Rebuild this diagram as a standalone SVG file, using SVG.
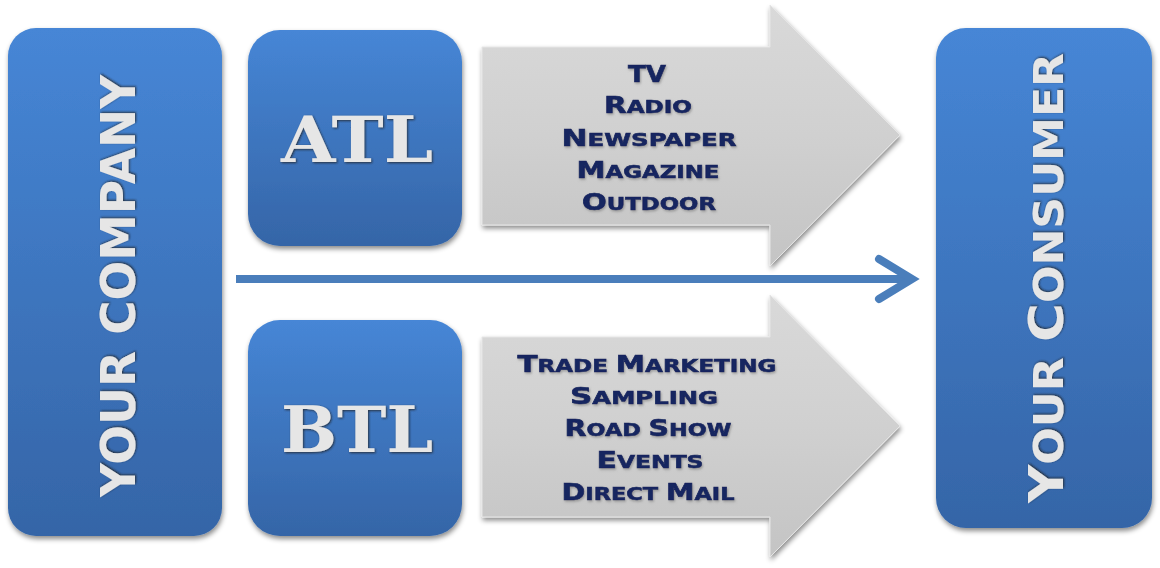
<svg xmlns="http://www.w3.org/2000/svg" width="1160" height="568" viewBox="0 0 1160 568">
<defs>
<linearGradient id="blue" x1="0" y1="0" x2="0" y2="1">
<stop offset="0" stop-color="#4686d6"/>
<stop offset="1" stop-color="#3565a7"/>
</linearGradient>
<linearGradient id="gray" x1="0" y1="0" x2="0" y2="1">
<stop offset="0" stop-color="#d9d9d9"/>
<stop offset="0.5" stop-color="#d0d0d0"/>
<stop offset="1" stop-color="#c4c4c4"/>
</linearGradient>
<filter id="sh" x="-10%" y="-10%" width="120%" height="120%">
<feDropShadow dx="1" dy="3" stdDeviation="2.5" flood-color="#000" flood-opacity="0.45"/>
</filter>
<filter id="tsh" x="-10%" y="-10%" width="120%" height="130%">
<feDropShadow dx="1" dy="1" stdDeviation="1.2" flood-color="#222" flood-opacity="0.8"/>
</filter>
<filter id="nsh" x="-10%" y="-20%" width="120%" height="140%">
<feDropShadow dx="1" dy="1.5" stdDeviation="1" flood-color="#777" flood-opacity="0.6"/>
</filter>
</defs>
<style>
.box{fill:url(#blue);filter:url(#sh)}
.arr{fill:url(#gray);filter:url(#sh);stroke:#e6e6e6;stroke-width:1}
.big{font-family:"DejaVu Serif",serif;font-weight:bold;fill:#e6e6e6;filter:url(#tsh);text-anchor:middle}
.vert{font-family:"DejaVu Sans",sans-serif;font-weight:bold;fill:#e6e6e6;filter:url(#tsh)}
.item{font-family:"DejaVu Sans",sans-serif;font-weight:bold;fill:#142560;stroke:#142560;stroke-width:0.6;filter:url(#nsh);text-anchor:middle;font-size:18px}
.cap{font-size:23px}
</style>

<g id="connectors">
<line x1="236" y1="279" x2="912" y2="279" stroke="#4a7ebb" stroke-width="8"/>
<polyline points="879,259 912,279 879,299" fill="none" stroke="#4a7ebb" stroke-width="8" stroke-linecap="round" stroke-linejoin="miter"/>
</g>

<g id="your-company">
<rect class="box" x="8" y="28" width="214" height="508" rx="28"/>
<text class="vert" transform="translate(135,286) rotate(-90)" text-anchor="middle" font-size="48" textLength="422" lengthAdjust="spacingAndGlyphs">YOUR COMPANY</text>
</g>

<g id="atl">
<rect class="box" x="248" y="30" width="214" height="216" rx="32"/>
<text class="big" x="357" y="162" font-size="64" textLength="152" lengthAdjust="spacingAndGlyphs">ATL</text>
</g>

<g id="btl">
<rect class="box" x="248" y="320" width="214" height="216" rx="32"/>
<text class="big" x="357" y="452" font-size="64" textLength="152" lengthAdjust="spacingAndGlyphs">BTL</text>
</g>

<g id="your-consumer">
<rect class="box" x="936" y="28" width="216" height="500" rx="30"/>
<text class="vert" transform="translate(1063,278) rotate(-90)" text-anchor="middle" font-size="40" textLength="450" lengthAdjust="spacingAndGlyphs"><tspan font-size="48">Y</tspan>OUR <tspan font-size="48">C</tspan>ONSUMER</text>
</g>

<g id="atl-channels">
<polygon class="arr" points="482,47 770,47 770,5 900,135 770,266 770,225 482,225"/>
<text class="item" x="647" y="82" textLength="38" lengthAdjust="spacingAndGlyphs"><tspan class="cap">TV</tspan></text>
<text class="item" x="648" y="113" textLength="88" lengthAdjust="spacingAndGlyphs"><tspan class="cap">R</tspan>ADIO</text>
<text class="item" x="649" y="146" textLength="175" lengthAdjust="spacingAndGlyphs"><tspan class="cap">N</tspan>EWSPAPER</text>
<text class="item" x="648" y="178" textLength="143" lengthAdjust="spacingAndGlyphs"><tspan class="cap">M</tspan>AGAZINE</text>
<text class="item" x="649" y="210" textLength="134" lengthAdjust="spacingAndGlyphs"><tspan class="cap">O</tspan>UTDOOR</text>
</g>

<g id="btl-channels">
<polygon class="arr" points="482,337 770,337 770,295 900,426 770,557 770,517 482,517"/>
<text class="item" x="647" y="372" textLength="259" lengthAdjust="spacingAndGlyphs"><tspan class="cap">T</tspan>RADE <tspan class="cap">M</tspan>ARKETING</text>
<text class="item" x="644" y="404" textLength="148" lengthAdjust="spacingAndGlyphs"><tspan class="cap">S</tspan>AMPLING</text>
<text class="item" x="648" y="436" textLength="167" lengthAdjust="spacingAndGlyphs"><tspan class="cap">R</tspan>OAD <tspan class="cap">S</tspan>HOW</text>
<text class="item" x="650" y="468" textLength="107" lengthAdjust="spacingAndGlyphs"><tspan class="cap">E</tspan>VENTS</text>
<text class="item" x="648" y="500" textLength="173" lengthAdjust="spacingAndGlyphs"><tspan class="cap">D</tspan>IRECT <tspan class="cap">M</tspan>AIL</text>
</g>
</svg>
